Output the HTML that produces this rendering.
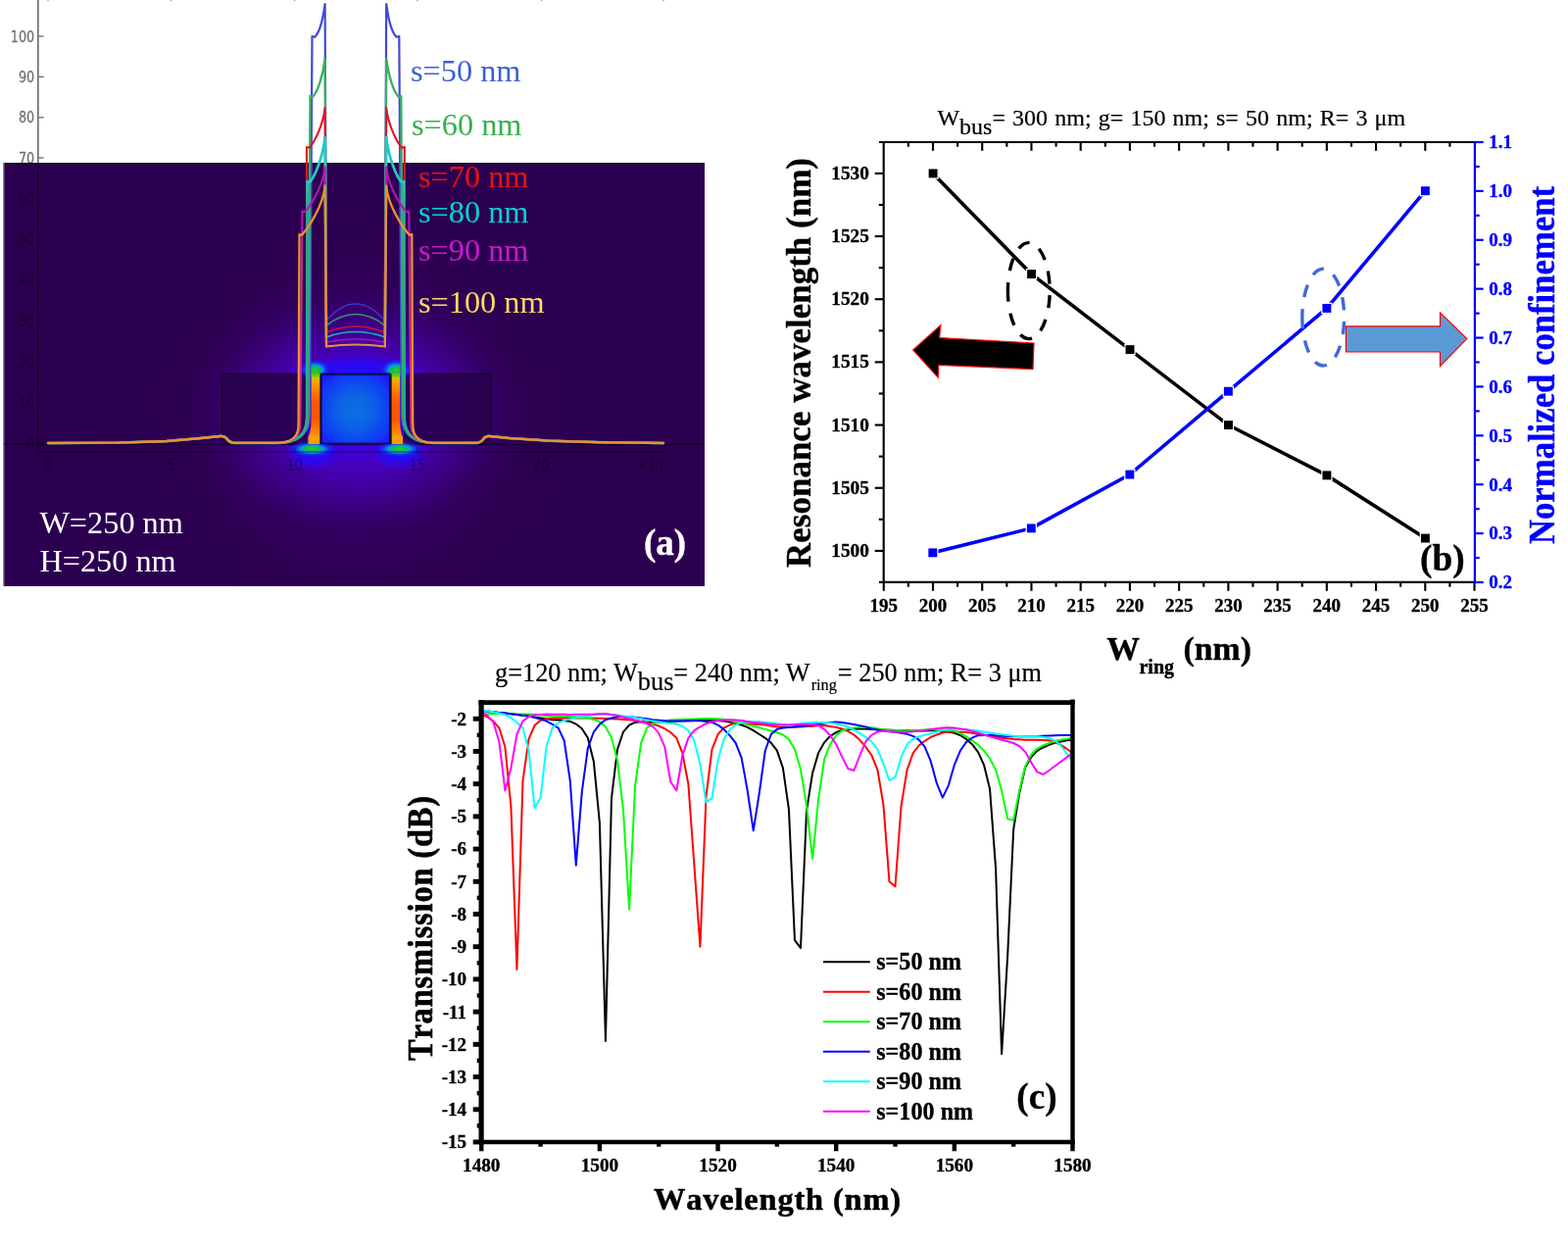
<!DOCTYPE html>
<html lang="en"><head><meta charset="utf-8"><title>Figure</title>
<style>
html,body{margin:0;padding:0;background:#fff;}
body{width:1600px;height:1269px;overflow:hidden;position:relative;}
svg{position:absolute;left:0;top:0;display:block;}
text{font-family:"Liberation Serif", serif;}
.b{font-weight:bold;stroke:#000;stroke-width:0.35px;}
.b[fill="#0000ff"]{stroke:#0000ff;}
.b[fill="#fff"]{stroke:#fff;}
.nk{font-kerning:none;}
.mp{font-family:"DejaVu Sans", "Liberation Sans", sans-serif;fill:#000;}
</style></head><body>
<svg width="1600" height="1269" viewBox="0 0 1600 1269">
<defs>
<clipPath id="clipA"><rect x="4" y="166" width="715" height="432"/></clipPath>
<radialGradient id="glowBig" cx="363" cy="428" r="230" gradientUnits="userSpaceOnUse"><stop offset="0" stop-color="#400090" stop-opacity="0.7"/><stop offset="0.4" stop-color="#3a0080" stop-opacity="0.42"/><stop offset="0.7" stop-color="#320064" stop-opacity="0.22"/><stop offset="1" stop-color="#2c0050" stop-opacity="0"/></radialGradient>
<radialGradient id="glowMid" cx="363" cy="421" r="140" gradientUnits="userSpaceOnUse" gradientTransform="translate(363 421) scale(1.28 1) translate(-363 -421)"><stop offset="0" stop-color="#4a00dc" stop-opacity="1"/><stop offset="0.3" stop-color="#4a00d0" stop-opacity="0.95"/><stop offset="0.5" stop-color="#4800b8" stop-opacity="0.8"/><stop offset="0.7" stop-color="#420096" stop-opacity="0.5"/><stop offset="0.85" stop-color="#380074" stop-opacity="0.22"/><stop offset="1" stop-color="#2c0050" stop-opacity="0"/></radialGradient>
<radialGradient id="glowHot" cx="0.5" cy="0.5" r="0.5"><stop offset="0" stop-color="#1c10ff" stop-opacity="1"/><stop offset="0.55" stop-color="#2a08f4" stop-opacity="0.85"/><stop offset="0.8" stop-color="#3604e0" stop-opacity="0.45"/><stop offset="1" stop-color="#4000d0" stop-opacity="0"/></radialGradient>
<radialGradient id="core" cx="0.5" cy="0.52" r="0.72"><stop offset="0" stop-color="#0870e0"/><stop offset="0.35" stop-color="#0a62e6"/><stop offset="0.65" stop-color="#1044f2"/><stop offset="0.85" stop-color="#1628fa"/><stop offset="1" stop-color="#1a18f4"/></radialGradient>
<linearGradient id="mgg" x1="0" y1="230" x2="0" y2="300" gradientUnits="userSpaceOnUse"><stop offset="0" stop-color="#b414b4"/><stop offset="1" stop-color="#cc2c80"/></linearGradient>
<linearGradient id="cyg" x1="0" y1="186" x2="0" y2="215" gradientUnits="userSpaceOnUse"><stop offset="0" stop-color="#20c8c8"/><stop offset="1" stop-color="#22ae98"/></linearGradient>
<linearGradient id="slot" x1="0" y1="0" x2="0" y2="1"><stop offset="0" stop-color="#20c828"/><stop offset="0.035" stop-color="#60cc10"/><stop offset="0.08" stop-color="#d0c000"/><stop offset="0.14" stop-color="#ffa000"/><stop offset="0.3" stop-color="#ff7000"/><stop offset="0.45" stop-color="#ff5400"/><stop offset="0.65" stop-color="#ff5600"/><stop offset="0.82" stop-color="#ff8000"/><stop offset="0.92" stop-color="#ffa200"/><stop offset="1" stop-color="#ff9400"/></linearGradient>
<radialGradient id="gblob" cx="0.5" cy="0.5" r="0.5"><stop offset="0" stop-color="#30d820" stop-opacity="1"/><stop offset="0.26" stop-color="#14c43c" stop-opacity="1"/><stop offset="0.46" stop-color="#00a8e0" stop-opacity="0.95"/><stop offset="0.68" stop-color="#1040ff" stop-opacity="0.8"/><stop offset="1" stop-color="#2010ff" stop-opacity="0"/></radialGradient>
<filter id="bl1" x="-20%" y="-20%" width="140%" height="140%"><feGaussianBlur stdDeviation="0.6"/></filter>
<filter id="bl2" x="-20%" y="-20%" width="140%" height="140%"><feGaussianBlur stdDeviation="1.5"/></filter>
<filter id="bl05" x="-5%" y="-5%" width="110%" height="110%"><feGaussianBlur stdDeviation="0.45"/></filter>
<filter id="bl07" x="-5%" y="-5%" width="110%" height="110%"><feGaussianBlur stdDeviation="0.6"/></filter>
<filter id="bl08" x="-5%" y="-5%" width="110%" height="110%"><feGaussianBlur stdDeviation="0.75"/></filter>
</defs>
<g id="panelA">
<rect x="4" y="166" width="715" height="432" fill="#2c0050"/>
<rect x="4" y="166" width="715" height="2.2" fill="#1c0a30"/>
<rect x="3" y="166" width="1.4" height="432" fill="#8a8aa0"/>
<g clip-path="url(#clipA)">
<rect x="4" y="166" width="715" height="432" fill="url(#glowBig)"/>
<rect x="4" y="166" width="715" height="432" fill="url(#glowMid)"/>
<ellipse cx="363" cy="416" rx="80" ry="62" fill="url(#glowHot)" opacity="0.72"/>
<ellipse cx="363" cy="378" rx="72" ry="17" fill="url(#glowHot)" opacity="0.85"/>
<ellipse cx="319" cy="463.5" rx="31" ry="17" fill="url(#glowHot)" opacity="0.95"/>
<ellipse cx="407" cy="463.5" rx="31" ry="17" fill="url(#glowHot)" opacity="0.95"/>
<g filter="url(#bl1)">
<rect x="226.5" y="381.5" width="86" height="71" fill="#2a004c" fill-opacity="0.9" stroke="#1a0030" stroke-opacity="0.8" stroke-width="1.5"/>
<rect x="413" y="381.5" width="88" height="71" fill="#2a004c" fill-opacity="0.9" stroke="#1a0030" stroke-opacity="0.8" stroke-width="1.5"/>
</g>
<rect x="4" y="452.6" width="715" height="1.5" fill="#16002c" opacity="0.75"/>
<ellipse cx="321.5" cy="377.5" rx="16.5" ry="11.5" fill="url(#gblob)" opacity="0.95"/>
<ellipse cx="404" cy="377.5" rx="16.5" ry="11.5" fill="url(#gblob)" opacity="0.95"/>
<ellipse cx="318.5" cy="458" rx="25" ry="8.5" fill="url(#gblob)" opacity="0.95"/>
<ellipse cx="407.5" cy="458" rx="25" ry="8.5" fill="url(#gblob)" opacity="0.95"/>
<rect x="327.5" y="380.5" width="70.5" height="72.5" fill="#0c0a70" filter="url(#bl1)"/>
<rect x="328.5" y="383" width="68.5" height="68.5" fill="url(#core)" filter="url(#bl1)"/>
<g filter="url(#bl1)">
<path d="M317.5,380 L326.5,380 L326.5,453 L314.5,453 L314.5,446 Q317.5,440 317.5,430 Z" fill="url(#slot)"/>
<path d="M399.5,380 L408.2,380 L408.2,430 Q408.2,440 411,446 L411,453 L399.5,453 Z" fill="url(#slot)"/>
<rect x="326.6" y="381" width="1.6" height="72" fill="#0a0820"/>
<rect x="397.6" y="381" width="1.8" height="72" fill="#0a0820"/>
</g>
</g>
<g filter="url(#bl07)" stroke="#000" stroke-width="0.3">
<rect x="38" y="0" width="1.7" height="166.5" fill="#000" stroke="none" opacity="0.56"/>
<rect x="38" y="166.5" width="1.7" height="295" fill="#000" stroke="none" opacity="0.36"/>
<rect x="38" y="460.2" width="639.6" height="1.5" fill="#000" stroke="none" opacity="0.36"/>
<rect x="39.6" y="36.3" width="5" height="1.4" fill="#000" stroke="none" opacity="0.56"/>
<text class="mp" x="35.2" y="42.6" font-size="16" text-anchor="end" opacity="0.56" transform="translate(35.2 0) scale(0.8 1) translate(-35.2 0)">100</text>
<rect x="39.6" y="77.7" width="5" height="1.4" fill="#000" stroke="none" opacity="0.56"/>
<text class="mp" x="35.2" y="84" font-size="16" text-anchor="end" opacity="0.56" transform="translate(35.2 0) scale(0.8 1) translate(-35.2 0)">90</text>
<rect x="39.6" y="119.1" width="5" height="1.4" fill="#000" stroke="none" opacity="0.56"/>
<text class="mp" x="35.2" y="125.4" font-size="16" text-anchor="end" opacity="0.56" transform="translate(35.2 0) scale(0.8 1) translate(-35.2 0)">80</text>
<rect x="39.6" y="160.3" width="5" height="1.4" fill="#000" stroke="none" opacity="0.56"/>
<text class="mp" x="35.2" y="166.6" font-size="16" text-anchor="end" opacity="0.56" transform="translate(35.2 0) scale(0.8 1) translate(-35.2 0)">70</text>
<rect x="39.6" y="201.6" width="5" height="1.4" fill="#000" stroke="none" opacity="0.36"/>
<text class="mp" x="35.2" y="207.9" font-size="16" text-anchor="end" opacity="0.36" transform="translate(35.2 0) scale(0.8 1) translate(-35.2 0)">60</text>
<rect x="39.6" y="242.9" width="5" height="1.4" fill="#000" stroke="none" opacity="0.36"/>
<text class="mp" x="35.2" y="249.2" font-size="16" text-anchor="end" opacity="0.36" transform="translate(35.2 0) scale(0.8 1) translate(-35.2 0)">50</text>
<rect x="39.6" y="284.3" width="5" height="1.4" fill="#000" stroke="none" opacity="0.36"/>
<text class="mp" x="35.2" y="290.6" font-size="16" text-anchor="end" opacity="0.36" transform="translate(35.2 0) scale(0.8 1) translate(-35.2 0)">40</text>
<rect x="39.6" y="326.8" width="5" height="1.4" fill="#000" stroke="none" opacity="0.36"/>
<text class="mp" x="35.2" y="333.1" font-size="16" text-anchor="end" opacity="0.36" transform="translate(35.2 0) scale(0.8 1) translate(-35.2 0)">30</text>
<rect x="39.6" y="368.3" width="5" height="1.4" fill="#000" stroke="none" opacity="0.36"/>
<text class="mp" x="35.2" y="374.6" font-size="16" text-anchor="end" opacity="0.36" transform="translate(35.2 0) scale(0.8 1) translate(-35.2 0)">20</text>
<rect x="39.6" y="410.1" width="5" height="1.4" fill="#000" stroke="none" opacity="0.36"/>
<text class="mp" x="35.2" y="416.4" font-size="16" text-anchor="end" opacity="0.36" transform="translate(35.2 0) scale(0.8 1) translate(-35.2 0)">10</text>
<rect x="39.6" y="451.6" width="5" height="1.4" fill="#000" stroke="none" opacity="0.36"/>
<text class="mp" x="35.2" y="457.9" font-size="16" text-anchor="end" opacity="0.36" transform="translate(35.2 0) scale(0.8 1) translate(-35.2 0)">0</text>
<rect x="48.35" y="456.5" width="1.3" height="4.5" fill="#000" stroke="none" opacity="0.36"/>
<text class="mp" x="49" y="479.8" font-size="16" text-anchor="middle" opacity="0.36" transform="translate(49 0) scale(0.8 1) translate(-49 0)">0</text>
<rect x="173.85" y="456.5" width="1.3" height="4.5" fill="#000" stroke="none" opacity="0.36"/>
<text class="mp" x="174.5" y="479.8" font-size="16" text-anchor="middle" opacity="0.36" transform="translate(174.5 0) scale(0.8 1) translate(-174.5 0)">5</text>
<rect x="299.85" y="456.5" width="1.3" height="4.5" fill="#000" stroke="none" opacity="0.36"/>
<text class="mp" x="300.5" y="479.8" font-size="16" text-anchor="middle" opacity="0.36" transform="translate(300.5 0) scale(0.8 1) translate(-300.5 0)">10</text>
<rect x="425.35" y="456.5" width="1.3" height="4.5" fill="#000" stroke="none" opacity="0.36"/>
<text class="mp" x="426" y="479.8" font-size="16" text-anchor="middle" opacity="0.36" transform="translate(426 0) scale(0.8 1) translate(-426 0)">15</text>
<rect x="551.85" y="456.5" width="1.3" height="4.5" fill="#000" stroke="none" opacity="0.36"/>
<text class="mp" x="552.5" y="479.8" font-size="16" text-anchor="middle" opacity="0.36" transform="translate(552.5 0) scale(0.8 1) translate(-552.5 0)">20</text>
<rect x="676.5" y="456.5" width="1.3" height="4.5" fill="#000" stroke="none" opacity="0.36"/>
<text class="mp" x="650" y="479.8" font-size="16" opacity="0.36" transform="translate(650 0) scale(0.8 1) translate(-650 0)">×10</text>
<rect x="48.35" y="0" width="1.3" height="1.2" fill="#000" stroke="none" opacity="0.4"/>
<rect x="173.85" y="0" width="1.3" height="1.2" fill="#000" stroke="none" opacity="0.4"/>
<rect x="299.85" y="0" width="1.3" height="1.2" fill="#000" stroke="none" opacity="0.4"/>
<rect x="425.35" y="0" width="1.3" height="1.2" fill="#000" stroke="none" opacity="0.4"/>
<rect x="551.85" y="0" width="1.3" height="1.2" fill="#000" stroke="none" opacity="0.4"/>
<rect x="676.35" y="0" width="1.3" height="1.2" fill="#000" stroke="none" opacity="0.4"/>
</g>
<g fill="none" stroke-linejoin="round" stroke-linecap="round" filter="url(#bl08)">
<path d="M49,452 L120,451.6 L170,450 L205,447 L224,445 Q229,444.6 231,447 Q234,451.6 239,451.8 L283,451.8 Q315,451.8 315.8,425.54 L316,419.54 L318.5,37 L321,37.8 C326,33.7 329.6,18.85 331.6,4 L333,327" stroke="#4048d8" stroke-width="2.2"/>
<path d="M333,327 Q362.9,293 392.8,327" stroke="#4048d8" stroke-width="1.5" opacity="0.75"/>
<path d="M392.8,327 L394.2,4 C396.2,18.85 399.8,33.7 404.8,37.8 L407.3,37 L409.8,419.54 L410,425.54 Q410.8,451.8 442.8,451.8 L486,451.8 Q491,451.6 493.5,447.5 Q495.5,444.6 500,445 L520,447 L560,449.6 L610,451.2 L677,452" stroke="#4048d8" stroke-width="2.2"/>
<path d="M49,452 L120,451.6 L170,450 L205,447 L224,445 Q229,444.6 231,447 Q234,451.6 239,451.8 L283,451.8 Q313.6,451.8 314.4,426.8 L314.6,420.8 L316.5,98 L319,98.8 C324,94.2 329.6,77.1 331.6,60 L333,332" stroke="#38b060" stroke-width="2.3"/>
<path d="M333,332 Q362.9,309 392.8,332" stroke="#38b060" stroke-width="1.6" opacity="0.85"/>
<path d="M392.8,332 L394.2,60 C396.2,77.1 401.8,94.2 406.8,98.8 L409.3,98 L411.2,420.8 L411.4,426.8 Q412.2,451.8 442.8,451.8 L486,451.8 Q491,451.6 493.5,447.5 Q495.5,444.6 500,445 L520,447 L560,449.6 L610,451.2 L677,452" stroke="#38b060" stroke-width="2.3"/>
<path d="M49,452 L120,451.6 L170,450 L205,447 L224,445 Q229,444.6 231,447 Q234,451.6 239,451.8 L283,451.8 Q312.4,451.8 313.2,427.88 L313.4,421.88 L313,150 L315.5,150.8 C320.5,146 329.6,128 331.6,110 L333,339" stroke="#e01828" stroke-width="2.2"/>
<path d="M333,339 Q362.9,327 392.8,339" stroke="#e01828" stroke-width="1.7" opacity="0.9"/>
<path d="M392.8,339 L394.2,110 C396.2,128 405.3,146 410.3,150.8 L412.8,150 L412.4,421.88 L412.6,427.88 Q413.4,451.8 442.8,451.8 L486,451.8 Q491,451.6 493.5,447.5 Q495.5,444.6 500,445 L520,447 L560,449.6 L610,451.2 L677,452" stroke="#e01828" stroke-width="2.2"/>
<path d="M49,452 L120,451.6 L170,450 L205,447 L224,445 Q229,444.6 231,447 Q234,451.6 239,451.8 L283,451.8 Q312.2,451.8 313,428.06 L313.2,422.06 L313.6,185 L316.1,185.8 C321.1,180.5 329.6,160.25 331.6,140 L333,344" stroke="url(#cyg)" stroke-width="2.7"/>
<path d="M333,344 Q362.9,333 392.8,344" stroke="#20c4c4" stroke-width="1.7" opacity="0.9"/>
<path d="M392.8,344 L394.2,140 C396.2,160.25 404.7,180.5 409.7,185.8 L412.2,185 L412.6,422.06 L412.8,428.06 Q413.6,451.8 442.8,451.8 L486,451.8 Q491,451.6 493.5,447.5 Q495.5,444.6 500,445 L520,447 L560,449.6 L610,451.2 L677,452" stroke="url(#cyg)" stroke-width="2.7"/>
<path d="M49,452 L120,451.6 L170,450 L205,447 L224,445 Q229,444.6 231,447 Q234,451.6 239,451.8 L283,451.8 Q305.4,451.8 306.2,434.18 L306.4,428.18 L308.5,215.5 L311,216.3 C316,211 329.6,190.75 331.6,170.5 L333,349" stroke="url(#mgg)" stroke-width="2.1"/>
<path d="M333,349 Q362.9,343 392.8,349" stroke="#b414b4" stroke-width="1.6" opacity="0.9"/>
<path d="M392.8,349 L394.2,170.5 C396.2,190.75 409.8,211 414.8,216.3 L417.3,215.5 L419.4,428.18 L419.6,434.18 Q420.4,451.8 442.8,451.8 L486,451.8 Q491,451.6 493.5,447.5 Q495.5,444.6 500,445 L520,447 L560,449.6 L610,451.2 L677,452" stroke="url(#mgg)" stroke-width="2.1"/>
<path d="M49,452 L120,451.6 L170,450 L205,447 L224,445 Q229,444.6 231,447 Q234,451.6 239,451.8 L283,451.8 Q303.6,451.8 304.4,435.8 L304.6,429.8 L305.5,239 L308,239.8 C313,234.05 329.6,211.78 331.6,189.5 L333,353.5" stroke="#e89234" stroke-width="2.3"/>
<path d="M333,353.5 Q362.9,349.5 392.8,353.5" stroke="#e89234" stroke-width="1.9" opacity="1.0"/>
<path d="M392.8,353.5 L394.2,189.5 C396.2,211.78 412.8,234.05 417.8,239.8 L420.3,239 L421.2,429.8 L421.4,435.8 Q422.2,451.8 442.8,451.8 L486,451.8 Q491,451.6 493.5,447.5 Q495.5,444.6 500,445 L520,447 L560,449.6 L610,451.2 L677,452" stroke="#e89234" stroke-width="2.3"/>
</g>
<text x="419" y="82.9" font-size="32.3" fill="#3a5fd8">s=50 nm</text>
<text x="420" y="137.9" font-size="32.3" fill="#34b04c">s=60 nm</text>
<text x="427" y="190.7" font-size="32.3" fill="#ee1010">s=70 nm</text>
<text x="427" y="227.2" font-size="32.3" fill="#00d4d8">s=80 nm</text>
<text x="427" y="265.8" font-size="32.3" fill="#cc18cc">s=90 nm</text>
<text x="427" y="318.8" font-size="32.3" fill="#ffd966">s=100 nm</text>
<text x="40.4" y="544" font-size="32.3" fill="#fff">W=250 nm</text>
<text x="40.4" y="583" font-size="32.3" fill="#fff">H=250 nm</text>
<text class="b" x="657" y="566" font-size="37" fill="#fff">(a)</text>
</g>
<g id="panelB">
<text x="956.4" y="128" font-size="24" stroke="#000" stroke-width="0.2" style="word-spacing:1.15px">W<tspan dy="8.5" font-size="24">bus</tspan><tspan dy="-8.5">= 300 nm; g= 150 nm; s= 50 nm; R= 3 μm</tspan></text>
<g stroke="#000" stroke-width="2.15" fill="none">
<path d="M901.7,143.95 L901.7,595.05"/>
<path d="M897,593.9 L1505,593.9"/>
<path d="M897,145 L1505,145"/>
<path d="M901.77,594 v8.8"/>
<path d="M926.88,594 v4.7"/>
<path d="M926.88,145 v4.7"/>
<path d="M952,594 v8.8"/>
<path d="M952,145 v8.8"/>
<path d="M977.12,594 v4.7"/>
<path d="M977.12,145 v4.7"/>
<path d="M1002.23,594 v8.8"/>
<path d="M1002.23,145 v8.8"/>
<path d="M1027.35,594 v4.7"/>
<path d="M1027.35,145 v4.7"/>
<path d="M1052.46,594 v8.8"/>
<path d="M1052.46,145 v8.8"/>
<path d="M1077.58,594 v4.7"/>
<path d="M1077.58,145 v4.7"/>
<path d="M1102.69,594 v8.8"/>
<path d="M1102.69,145 v8.8"/>
<path d="M1127.81,594 v4.7"/>
<path d="M1127.81,145 v4.7"/>
<path d="M1152.92,594 v8.8"/>
<path d="M1152.92,145 v8.8"/>
<path d="M1178.03,594 v4.7"/>
<path d="M1178.03,145 v4.7"/>
<path d="M1203.15,594 v8.8"/>
<path d="M1203.15,145 v8.8"/>
<path d="M1228.26,594 v4.7"/>
<path d="M1228.26,145 v4.7"/>
<path d="M1253.38,594 v8.8"/>
<path d="M1253.38,145 v8.8"/>
<path d="M1278.49,594 v4.7"/>
<path d="M1278.49,145 v4.7"/>
<path d="M1303.61,594 v8.8"/>
<path d="M1303.61,145 v8.8"/>
<path d="M1328.72,594 v4.7"/>
<path d="M1328.72,145 v4.7"/>
<path d="M1353.84,594 v8.8"/>
<path d="M1353.84,145 v8.8"/>
<path d="M1378.95,594 v4.7"/>
<path d="M1378.95,145 v4.7"/>
<path d="M1404.07,594 v8.8"/>
<path d="M1404.07,145 v8.8"/>
<path d="M1429.18,594 v4.7"/>
<path d="M1429.18,145 v4.7"/>
<path d="M1454.3,594 v8.8"/>
<path d="M1454.3,145 v8.8"/>
<path d="M1479.41,594 v4.7"/>
<path d="M1479.41,145 v4.7"/>
<path d="M1504.53,594 v8.8"/>
<path d="M901.5,561.9 h-8.8"/>
<path d="M901.5,529.82 h-4.7"/>
<path d="M901.5,497.73 h-8.8"/>
<path d="M901.5,465.65 h-4.7"/>
<path d="M901.5,433.57 h-8.8"/>
<path d="M901.5,401.48 h-4.7"/>
<path d="M901.5,369.4 h-8.8"/>
<path d="M901.5,337.32 h-4.7"/>
<path d="M901.5,305.23 h-8.8"/>
<path d="M901.5,273.15 h-4.7"/>
<path d="M901.5,241.07 h-8.8"/>
<path d="M901.5,208.98 h-4.7"/>
<path d="M901.5,176.9 h-8.8"/>
</g>
<g stroke="#0000ff" stroke-width="2.2" fill="none">
<path d="M1504.9,143.95 L1504.9,595.05"/>
<path d="M1505,594 h8.7"/>
<path d="M1505,569.06 h4.7"/>
<path d="M1505,544.11 h8.7"/>
<path d="M1505,519.17 h4.7"/>
<path d="M1505,494.22 h8.7"/>
<path d="M1505,469.28 h4.7"/>
<path d="M1505,444.33 h8.7"/>
<path d="M1505,419.39 h4.7"/>
<path d="M1505,394.44 h8.7"/>
<path d="M1505,369.5 h4.7"/>
<path d="M1505,344.56 h8.7"/>
<path d="M1505,319.61 h4.7"/>
<path d="M1505,294.67 h8.7"/>
<path d="M1505,269.72 h4.7"/>
<path d="M1505,244.78 h8.7"/>
<path d="M1505,219.83 h4.7"/>
<path d="M1505,194.89 h8.7"/>
<path d="M1505,169.94 h4.7"/>
<path d="M1505,145 h8.7"/>
</g>
<text class="b" x="886.8" y="567.9" font-size="19.3" text-anchor="end">1500</text>
<text class="b" x="886.8" y="503.73" font-size="19.3" text-anchor="end">1505</text>
<text class="b" x="886.8" y="439.57" font-size="19.3" text-anchor="end">1510</text>
<text class="b" x="886.8" y="375.4" font-size="19.3" text-anchor="end">1515</text>
<text class="b" x="886.8" y="311.23" font-size="19.3" text-anchor="end">1520</text>
<text class="b" x="886.8" y="247.07" font-size="19.3" text-anchor="end">1525</text>
<text class="b" x="886.8" y="182.9" font-size="19.3" text-anchor="end">1530</text>
<text class="b" x="901.77" y="623.5" font-size="19" text-anchor="middle">195</text>
<text class="b" x="952" y="623.5" font-size="19" text-anchor="middle">200</text>
<text class="b" x="1002.23" y="623.5" font-size="19" text-anchor="middle">205</text>
<text class="b" x="1052.46" y="623.5" font-size="19" text-anchor="middle">210</text>
<text class="b" x="1102.69" y="623.5" font-size="19" text-anchor="middle">215</text>
<text class="b" x="1152.92" y="623.5" font-size="19" text-anchor="middle">220</text>
<text class="b" x="1203.15" y="623.5" font-size="19" text-anchor="middle">225</text>
<text class="b" x="1253.38" y="623.5" font-size="19" text-anchor="middle">230</text>
<text class="b" x="1303.61" y="623.5" font-size="19" text-anchor="middle">235</text>
<text class="b" x="1353.84" y="623.5" font-size="19" text-anchor="middle">240</text>
<text class="b" x="1404.07" y="623.5" font-size="19" text-anchor="middle">245</text>
<text class="b" x="1454.3" y="623.5" font-size="19" text-anchor="middle">250</text>
<text class="b" x="1504.53" y="623.5" font-size="19" text-anchor="middle">255</text>
<text class="b" x="1519.3" y="600.3" font-size="19" fill="#0000ff">0.2</text>
<text class="b" x="1519.3" y="550.41" font-size="19" fill="#0000ff">0.3</text>
<text class="b" x="1519.3" y="500.52" font-size="19" fill="#0000ff">0.4</text>
<text class="b" x="1519.3" y="450.63" font-size="19" fill="#0000ff">0.5</text>
<text class="b" x="1519.3" y="400.74" font-size="19" fill="#0000ff">0.6</text>
<text class="b" x="1519.3" y="350.86" font-size="19" fill="#0000ff">0.7</text>
<text class="b" x="1519.3" y="300.97" font-size="19" fill="#0000ff">0.8</text>
<text class="b" x="1519.3" y="251.08" font-size="19" fill="#0000ff">0.9</text>
<text class="b" x="1519.3" y="201.19" font-size="19" fill="#0000ff">1.0</text>
<text class="b" x="1519.3" y="151.3" font-size="19" fill="#0000ff">1.1</text>
<text class="b" font-size="35" text-anchor="middle" transform="translate(827.3 370) rotate(-90)">Resonance wavelength (nm)</text>
<text class="b" font-size="34.7" fill="#0000ff" text-anchor="middle" transform="translate(1585.7 372.5) rotate(-90) scale(1 1.07)">Normalized confinement</text>
<text class="b" x="1129.3" y="672.6" font-size="33.8">W<tspan dy="14.3" dx="-0.6" font-size="20">ring</tspan><tspan dy="-14.3" dx="1"> (nm)</tspan></text>
<polyline fill="none" stroke="#000" stroke-width="3.6" points="952,176.9 1052.46,279.57 1152.92,356.57 1253.38,433.57 1353.84,484.9 1454.3,549.07"/>
<rect x="946.4" y="171.2" width="11.4" height="11.4" fill="#fff"/>
<rect x="947.65" y="172.45" width="8.9" height="8.9" fill="#000"/>
<rect x="1046.86" y="273.87" width="11.4" height="11.4" fill="#fff"/>
<rect x="1048.11" y="275.12" width="8.9" height="8.9" fill="#000"/>
<rect x="1147.32" y="350.87" width="11.4" height="11.4" fill="#fff"/>
<rect x="1148.57" y="352.12" width="8.9" height="8.9" fill="#000"/>
<rect x="1247.78" y="427.87" width="11.4" height="11.4" fill="#fff"/>
<rect x="1249.03" y="429.12" width="8.9" height="8.9" fill="#000"/>
<rect x="1348.24" y="479.2" width="11.4" height="11.4" fill="#fff"/>
<rect x="1349.49" y="480.45" width="8.9" height="8.9" fill="#000"/>
<rect x="1448.7" y="543.37" width="11.4" height="11.4" fill="#fff"/>
<rect x="1449.95" y="544.62" width="8.9" height="8.9" fill="#000"/>
<polyline fill="none" stroke="#0000ff" stroke-width="3.6" points="951.8,563.87 1052.32,538.92 1152.84,484.04 1253.36,399.23 1353.88,314.42 1454.4,194.69"/>
<rect x="946.1" y="558.17" width="11.4" height="11.4" fill="#fff"/>
<rect x="947.35" y="559.42" width="8.9" height="8.9" fill="#0000ff"/>
<rect x="1046.62" y="533.22" width="11.4" height="11.4" fill="#fff"/>
<rect x="1047.87" y="534.47" width="8.9" height="8.9" fill="#0000ff"/>
<rect x="1147.14" y="478.34" width="11.4" height="11.4" fill="#fff"/>
<rect x="1148.39" y="479.59" width="8.9" height="8.9" fill="#0000ff"/>
<rect x="1247.66" y="393.53" width="11.4" height="11.4" fill="#fff"/>
<rect x="1248.91" y="394.78" width="8.9" height="8.9" fill="#0000ff"/>
<rect x="1348.18" y="308.72" width="11.4" height="11.4" fill="#fff"/>
<rect x="1349.43" y="309.97" width="8.9" height="8.9" fill="#0000ff"/>
<rect x="1448.7" y="188.99" width="11.4" height="11.4" fill="#fff"/>
<rect x="1449.95" y="190.24" width="8.9" height="8.9" fill="#0000ff"/>
<ellipse cx="1049.8" cy="296.6" rx="21.4" ry="49" fill="none" stroke="#000" stroke-width="3.4" stroke-dasharray="13 11.7" stroke-dashoffset="4.3" transform="rotate(180 1049.8 296.6)"/>
<ellipse cx="1350.2" cy="323.6" rx="21.4" ry="49.4" fill="none" stroke="#4466dd" stroke-width="3.4" stroke-dasharray="13 11.8" stroke-dashoffset="4.3" transform="rotate(180 1350.2 323.6)"/>
<path d="M931.7,357 L959.8,331.8 L958.6,344.6 L1055,350 L1054,376.6 L957.6,372.4 L957.3,385.3 Z" fill="#000" stroke="#ff0000" stroke-width="1.2" stroke-linejoin="miter"/>
<path d="M1373.4,332.8 L1469.5,332.8 L1469.5,318.9 L1496.8,345.6 L1469.5,373.5 L1469.5,359 L1373.4,359 Z" fill="#5b9bd5" stroke="#ff0000" stroke-width="1.2" stroke-linejoin="miter"/>
<text class="b" x="1449" y="582" font-size="37.3">(b)</text>
</g>
<g id="panelC">
<text x="505" y="695" font-size="26.3" stroke="#000" stroke-width="0.2">g=120 nm; W<tspan dy="9.3">bus</tspan><tspan dy="-9.3">= 240 nm; W</tspan><tspan dy="8.6" dx="1" font-size="16.3">ring</tspan><tspan dy="-8.6" dx="1">= 250 nm; R= 3 μm</tspan></text>
<g fill="none" stroke-linejoin="round" stroke-width="2">
<polyline stroke="#000000" points="491.25,724.78 497.28,725.49 503.31,726.19 509.35,726.9 515.38,727.6 521.41,728.35 527.45,729.1 533.48,729.85 539.51,730.59 545.54,731.51 551.58,732.42 557.61,733.33 563.64,734.25 569.67,734.58 575.71,734.91 581.74,735.91 587.77,738.56 593.8,743.21 599.84,752.84 605.87,777.09 611.9,839.52 617.93,1062.03 623.97,814.28 630,764.47 636.03,746.53 642.06,739.56 648.1,736.9 654.13,736.24 660.16,736.74 666.19,737.24 672.23,736.74 678.26,736.24 684.29,735.91 690.32,735.57 696.36,735.37 702.39,735.16 708.42,734.95 714.45,734.74 720.49,734.83 726.52,734.91 732.55,735.24 738.58,735.57 744.62,736.57 750.65,737.57 756.68,739.56 762.71,741.88 768.75,745.21 774.78,749.02 780.81,752.84 786.84,757.83 792.88,765.63 798.91,783.4 804.94,825.57 810.97,959.08 817,967.05 823.04,826.9 829.07,788.71 835.1,768.12 841.13,757.33 847.17,750.85 853.2,747.2 859.23,744.54 865.26,743.88 871.3,743.55 877.33,743.21 883.36,743.55 889.39,743.88 895.43,744.21 901.46,744.54 907.49,744.87 913.52,745.21 919.56,745.29 925.59,745.37 931.62,745.45 937.65,745.54 943.69,745.43 949.72,745.32 955.75,745.21 961.79,745.87 967.82,746.53 973.85,747.86 979.88,750.02 985.91,754.01 991.95,759.15 997.98,767.12 1004.01,780.24 1010.04,804.65 1016.08,886.02 1022.11,1075.31 1028.14,975.68 1034.17,846.16 1040.21,808.97 1046.24,782.73 1052.27,772.44 1058.3,765.8 1064.34,762.47 1070.37,759.82 1076.4,757.83 1082.43,756.5 1088.47,755.33 1094.5,754.67"/>
<polyline stroke="#ff0000" points="491.25,728.6 497.28,731.26 503.31,735.57 509.35,742.55 515.38,761.81 521.41,822.92 527.45,988.97 533.48,796.35 539.51,754.17 545.54,739.89 551.58,734.91 557.61,733.25 563.64,732.83 569.67,732.42 575.71,732.42 581.74,732.42 587.77,732.42 593.8,732.42 599.84,732.54 605.87,732.67 611.9,732.79 617.93,732.92 623.97,733.25 630,733.58 636.03,733.91 642.06,734.25 648.1,735.08 654.13,735.91 660.16,737.24 666.19,738.56 672.23,740.56 678.26,743.21 684.29,747.2 690.32,752.84 696.36,768.12 702.39,800 708.42,882.69 714.45,965.72 720.49,812.95 726.52,764.47 732.55,749.02 738.58,742.55 744.62,739.56 750.65,737.57 756.68,737.9 762.71,738.23 768.75,738.67 774.78,739.12 780.81,739.56 786.84,740.47 792.88,741.39 798.91,741.64 804.94,741.88 810.97,741.64 817,741.39 823.04,741.05 829.07,740.72 835.1,740.31 841.13,739.89 847.17,740.89 853.2,741.88 859.23,743.55 865.26,745.87 871.3,749.52 877.33,754.84 883.36,761.81 889.39,770.45 895.43,785.39 901.46,820.92 907.49,899.3 913.52,904.28 919.56,822.25 925.59,785.39 931.62,768.45 937.65,760.48 943.69,755.83 949.72,752.01 955.75,749.52 961.79,747.53 967.82,746.53 973.85,746.53 979.88,746.7 985.91,746.87 991.95,747.86 997.98,748.86 1004.01,749.86 1010.04,750.85 1016.08,751.76 1022.11,752.68 1028.14,753.34 1034.17,754.01 1040.21,754.34 1046.24,754.67 1052.27,754.67 1058.3,754.67 1064.34,755 1070.37,755.33 1076.4,757.16 1082.43,759.82 1088.47,763.8 1094.5,768.45"/>
<polyline stroke="#00ff00" points="491.25,729.26 497.28,728.6 503.31,727.94 509.35,728.05 515.38,728.16 521.41,728.27 527.45,728.38 533.48,728.49 539.51,728.6 545.54,729.1 551.58,729.6 557.61,730.1 563.64,730.59 569.67,730.76 575.71,730.93 581.74,731.09 587.77,731.26 593.8,731.92 599.84,732.59 605.87,733.91 611.9,736.24 617.93,741.39 623.97,752.18 630,775.76 636.03,826.9 642.06,927.53 648.1,801.33 654.13,757.83 660.16,742.55 666.19,738.23 672.23,736.24 678.26,735.41 684.29,734.58 690.32,734.25 696.36,733.91 702.39,733.75 708.42,733.58 714.45,733.33 720.49,733.08 726.52,733.17 732.55,733.25 738.58,734.08 744.62,734.91 750.65,736.24 756.68,737.57 762.71,739.14 768.75,740.72 774.78,742.3 780.81,743.88 786.84,745.54 792.88,747.2 798.91,749.52 804.94,754.17 810.97,764.47 817,784.73 823.04,821.92 829.07,876.05 835.1,815.28 841.13,774.43 847.17,759.15 853.2,750.19 859.23,745.21 865.26,743.21 871.3,742.55 877.33,741.88 883.36,742.05 889.39,742.22 895.43,743.21 901.46,744.21 907.49,744.54 913.52,744.87 919.56,745.21 925.59,745.54 931.62,745.21 937.65,744.87 943.69,744.54 949.72,744.21 955.75,744.21 961.79,744.21 967.82,744.87 973.85,745.54 979.88,748.19 985.91,751.35 991.95,755.33 997.98,759.82 1004.01,765.8 1010.04,773.77 1016.08,785.39 1022.11,806.48 1028.14,835.37 1034.17,836.7 1040.21,806.48 1046.24,781.57 1052.27,769.78 1058.3,763.8 1064.34,760.48 1070.37,757.99 1076.4,756 1082.43,754.67 1088.47,753.84 1094.5,752.84"/>
<polyline stroke="#0000ff" points="491.25,724.78 497.28,725.49 503.31,726.19 509.35,726.9 515.38,727.6 521.41,728.35 527.45,729.1 533.48,729.85 539.51,730.59 545.54,732.09 551.58,733.58 557.61,735.57 563.64,738.9 569.67,742.55 575.71,755.5 581.74,796.35 587.77,882.69 593.8,807.64 599.84,763.14 605.87,746.53 611.9,738.9 617.93,734.25 623.97,732.42 630,731.26 636.03,731.26 642.06,731.26 648.1,731.84 654.13,732.42 660.16,733.33 666.19,734.25 672.23,734.74 678.26,735.24 684.29,735.41 690.32,735.57 696.36,735.41 702.39,735.24 708.42,735.24 714.45,735.24 720.49,736.07 726.52,736.9 732.55,739.56 738.58,743.88 744.62,750.19 750.65,757.83 756.68,773.1 762.71,806.31 768.75,847.33 774.78,808.97 780.81,765.63 786.84,749.02 792.88,743.88 798.91,742.55 804.94,741.88 810.97,741.3 817,740.72 823.04,740.14 829.07,739.56 835.1,738.56 841.13,737.57 847.17,737.07 853.2,736.57 859.23,736.9 865.26,737.9 871.3,738.9 877.33,740.14 883.36,741.39 889.39,743.55 895.43,744.54 901.46,745.54 907.49,746.2 913.52,746.87 919.56,747.86 925.59,748.86 931.62,750.85 937.65,754.67 943.69,761.81 949.72,776.42 955.75,798.67 961.79,813.62 967.82,801.33 973.85,780.24 979.88,765.8 985.91,757.16 991.95,752.68 997.98,750.19 1004.01,750.02 1010.04,749.86 1016.08,750.27 1022.11,750.69 1028.14,751.02 1034.17,751.35 1040.21,751.31 1046.24,751.27 1052.27,751.22 1058.3,751.18 1064.34,750.85 1070.37,750.52 1076.4,750.27 1082.43,750.02 1088.47,750.02 1094.5,750.02"/>
<polyline stroke="#00ffff" points="491.25,724.12 497.28,725.2 503.31,726.28 509.35,727.6 515.38,728.93 521.41,732.42 527.45,736.9 533.48,742.55 539.51,765.63 545.54,824.25 551.58,813.62 557.61,761.15 563.64,742.55 569.67,737.57 575.71,734.91 581.74,733.42 587.77,731.92 593.8,731.09 599.84,730.26 605.87,729.6 611.9,728.93 617.93,728.6 623.97,729.1 630,729.6 636.03,730.43 642.06,731.26 648.1,732.25 654.13,733.25 660.16,734.41 666.19,735.57 672.23,736.4 678.26,737.24 684.29,737.9 690.32,738.56 696.36,740.72 702.39,745.21 708.42,755.5 714.45,779.74 720.49,818.6 726.52,814.12 732.55,775.76 738.58,754.17 744.62,744.54 750.65,739.56 756.68,736.9 762.71,736.24 768.75,736.24 774.78,736.24 780.81,736.9 786.84,737.57 792.88,738.23 798.91,738.9 804.94,739.56 810.97,738.9 817,738.23 823.04,737.57 829.07,736.9 835.1,736.9 841.13,736.9 847.17,737.57 853.2,738.23 859.23,739.81 865.26,741.39 871.3,744.62 877.33,747.86 883.36,751.85 889.39,756.5 895.43,764.47 901.46,779.08 907.49,796.02 913.52,792.7 919.56,772.44 925.59,759.15 931.62,754.01 937.65,751.35 943.69,749.77 949.72,748.19 955.75,746.53 961.79,744.87 967.82,744.21 973.85,743.55 979.88,743.88 985.91,744.21 991.95,744.87 997.98,745.54 1004.01,746.53 1010.04,747.53 1016.08,748.44 1022.11,749.36 1028.14,750.02 1034.17,750.69 1040.21,751.02 1046.24,751.35 1052.27,751.35 1058.3,751.35 1064.34,752.01 1070.37,752.68 1076.4,755.33 1082.43,760.48 1088.47,768.45 1094.5,777.09"/>
<polyline stroke="#ff00ff" points="491.25,725.94 497.28,729.93 503.31,736.24 509.35,756.7 515.38,806.48 521.41,783.4 527.45,749.02 533.48,735.57 539.51,731.26 545.54,729.26 551.58,728.93 557.61,728.6 563.64,728.68 569.67,728.77 575.71,728.85 581.74,728.93 587.77,728.85 593.8,728.77 599.84,728.68 605.87,728.6 611.9,728.27 617.93,727.94 623.97,728.93 630,729.93 636.03,731.51 642.06,733.08 648.1,734.66 654.13,736.24 660.16,738.23 666.19,741.05 672.23,747.86 678.26,761.81 684.29,797.51 690.32,806.48 696.36,770.78 702.39,752.84 708.42,745.21 714.45,741.39 720.49,738.23 726.52,736.24 732.55,734.91 738.58,734.58 744.62,734.25 750.65,734.58 756.68,734.91 762.71,735.91 768.75,736.9 774.78,737.57 780.81,738.23 786.84,738.9 792.88,739.56 798.91,739.56 804.94,739.56 810.97,739.23 817,738.9 823.04,738.9 829.07,738.9 835.1,739.89 841.13,743.88 847.17,750.19 853.2,759.15 859.23,772.11 865.26,784.06 871.3,786.05 877.33,770.78 883.36,756.5 889.39,749.86 895.43,746.53 901.46,745.54 907.49,746.04 913.52,746.53 919.56,746.7 925.59,746.87 931.62,746.37 937.65,745.87 943.69,744.87 949.72,743.88 955.75,743.21 961.79,742.55 967.82,742.22 973.85,742.55 979.88,743.38 985.91,744.21 991.95,745.87 997.98,747.53 1004.01,749.44 1010.04,751.35 1016.08,753.01 1022.11,754.67 1028.14,756.33 1034.17,757.99 1040.21,761.15 1046.24,767.12 1052.27,777.75 1058.3,787.38 1064.34,790.04 1070.37,786.05 1076.4,781.57 1082.43,777.09 1088.47,772.44 1094.5,768.45"/>
</g>
<g stroke="#000" fill="none">
<path d="M491.1,714 L491.1,1167.2" stroke-width="5.2"/>
<path d="M489,1165 L1096.7,1165" stroke-width="4.4"/>
<path d="M488.5,716.6 L1096.7,716.6" stroke-width="4.6"/>
<path d="M1094.5,713.4 L1094.5,1167.2" stroke-width="4.4"/>
</g>
<g stroke="#000" stroke-width="4.4" fill="none">
<path d="M491.25,1165 v9.3"/>
<path d="M551.58,1165 v4.7"/>
<path d="M611.9,1165 v9.3"/>
<path d="M672.23,1165 v4.7"/>
<path d="M732.55,1165 v9.3"/>
<path d="M792.88,1165 v4.7"/>
<path d="M853.2,1165 v9.3"/>
<path d="M913.52,1165 v4.7"/>
<path d="M973.85,1165 v9.3"/>
<path d="M1034.17,1165 v4.7"/>
<path d="M1094.5,1165 v9.3"/>
</g>
<g stroke="#000" stroke-width="3" fill="none">
<path d="M491.3,1164.98 h-8.6" stroke-width="4.9"/>
<path d="M491.3,1148.38 h-4.6" stroke-width="4.4"/>
<path d="M491.3,1131.77 h-8.6" stroke-width="4.9"/>
<path d="M491.3,1115.16 h-4.6" stroke-width="4.4"/>
<path d="M491.3,1098.56 h-8.6" stroke-width="4.9"/>
<path d="M491.3,1081.95 h-4.6" stroke-width="4.4"/>
<path d="M491.3,1065.35 h-8.6" stroke-width="4.9"/>
<path d="M491.3,1048.74 h-4.6" stroke-width="4.4"/>
<path d="M491.3,1032.14 h-8.6" stroke-width="4.9"/>
<path d="M491.3,1015.54 h-4.6" stroke-width="4.4"/>
<path d="M491.3,998.93 h-8.6" stroke-width="4.9"/>
<path d="M491.3,982.33 h-4.6" stroke-width="4.4"/>
<path d="M491.3,965.72 h-8.6" stroke-width="4.9"/>
<path d="M491.3,949.12 h-4.6" stroke-width="4.4"/>
<path d="M491.3,932.51 h-8.6" stroke-width="4.9"/>
<path d="M491.3,915.9 h-4.6" stroke-width="4.4"/>
<path d="M491.3,899.3 h-8.6" stroke-width="4.9"/>
<path d="M491.3,882.69 h-4.6" stroke-width="4.4"/>
<path d="M491.3,866.09 h-8.6" stroke-width="4.9"/>
<path d="M491.3,849.49 h-4.6" stroke-width="4.4"/>
<path d="M491.3,832.88 h-8.6" stroke-width="4.9"/>
<path d="M491.3,816.27 h-4.6" stroke-width="4.4"/>
<path d="M491.3,799.67 h-8.6" stroke-width="4.9"/>
<path d="M491.3,783.07 h-4.6" stroke-width="4.4"/>
<path d="M491.3,766.46 h-8.6" stroke-width="4.9"/>
<path d="M491.3,749.86 h-4.6" stroke-width="4.4"/>
<path d="M491.3,733.25 h-8.6" stroke-width="4.9"/>
</g>
<text class="b" x="476" y="1171.38" font-size="19" text-anchor="end">-15</text>
<text class="b" x="476" y="1138.17" font-size="19" text-anchor="end">-14</text>
<text class="b" x="476" y="1104.96" font-size="19" text-anchor="end">-13</text>
<text class="b" x="476" y="1071.75" font-size="19" text-anchor="end">-12</text>
<text class="b" x="476" y="1038.54" font-size="19" text-anchor="end">-11</text>
<text class="b" x="476" y="1005.33" font-size="19" text-anchor="end">-10</text>
<text class="b" x="476" y="972.12" font-size="19" text-anchor="end">-9</text>
<text class="b" x="476" y="938.91" font-size="19" text-anchor="end">-8</text>
<text class="b" x="476" y="905.7" font-size="19" text-anchor="end">-7</text>
<text class="b" x="476" y="872.49" font-size="19" text-anchor="end">-6</text>
<text class="b" x="476" y="839.28" font-size="19" text-anchor="end">-5</text>
<text class="b" x="476" y="806.07" font-size="19" text-anchor="end">-4</text>
<text class="b" x="476" y="772.86" font-size="19" text-anchor="end">-3</text>
<text class="b" x="476" y="739.65" font-size="19" text-anchor="end">-2</text>
<text class="b" x="491.25" y="1195.2" font-size="19.2" text-anchor="middle">1480</text>
<text class="b" x="611.9" y="1195.2" font-size="19.2" text-anchor="middle">1500</text>
<text class="b" x="732.55" y="1195.2" font-size="19.2" text-anchor="middle">1520</text>
<text class="b" x="853.2" y="1195.2" font-size="19.2" text-anchor="middle">1540</text>
<text class="b" x="973.85" y="1195.2" font-size="19.2" text-anchor="middle">1560</text>
<text class="b" x="1094.5" y="1195.2" font-size="19.2" text-anchor="middle">1580</text>
<text class="b nk" font-size="32.4" text-anchor="middle" letter-spacing="0.85" style="stroke-width:0.55px" transform="translate(440.9 946.6) rotate(-90) scale(1 1.1)">Transmission (dB)</text>
<text class="b nk" x="793.4" y="1233.6" font-size="32.4" style="stroke-width:0.55px" text-anchor="middle" letter-spacing="0.85">Wavelength (nm)</text>
<path d="M840,981.3 H887.8" stroke="#000000" stroke-width="2"/>
<text class="b" font-size="24" letter-spacing="0.08" transform="translate(894.2 989.2) scale(1 1.08)">s=50 nm</text>
<path d="M840,1011.8 H887.8" stroke="#ff0000" stroke-width="2"/>
<text class="b" font-size="24" letter-spacing="0.08" transform="translate(894.2 1019.7) scale(1 1.08)">s=60 nm</text>
<path d="M840,1042.3 H887.8" stroke="#00ff00" stroke-width="2"/>
<text class="b" font-size="24" letter-spacing="0.08" transform="translate(894.2 1050.2) scale(1 1.08)">s=70 nm</text>
<path d="M840,1072.8 H887.8" stroke="#0000ff" stroke-width="2"/>
<text class="b" font-size="24" letter-spacing="0.08" transform="translate(894.2 1080.7) scale(1 1.08)">s=80 nm</text>
<path d="M840,1103.3 H887.8" stroke="#00ffff" stroke-width="2"/>
<text class="b" font-size="24" letter-spacing="0.08" transform="translate(894.2 1111.2) scale(1 1.08)">s=90 nm</text>
<path d="M840,1133.8 H887.8" stroke="#ff00ff" stroke-width="2"/>
<text class="b" font-size="24" letter-spacing="0.08" transform="translate(894.2 1141.7) scale(1 1.08)">s=100 nm</text>
<text class="b" x="1037.3" y="1131" font-size="37.2">(c)</text>
</g>
</svg>
</body></html>
